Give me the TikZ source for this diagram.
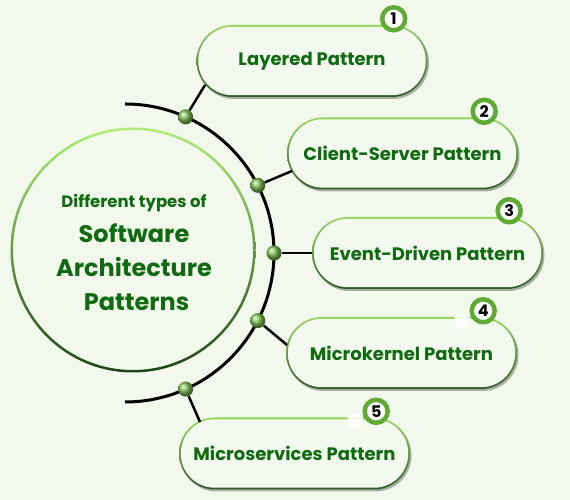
\documentclass[tikz,border=0pt]{standalone}
\usepackage{fontspec}
\setmainfont{Poppins}
\usetikzlibrary{shapes.misc,shadows}

\definecolor{pagebg}{HTML}{F2F8EB}
\definecolor{pillfill}{HTML}{F4F9EF}
\definecolor{pilltop}{HTML}{92D65A}
\definecolor{pillbottom}{HTML}{2C5A24}
\definecolor{ringtop}{HTML}{AEF077}
\definecolor{ringmiddle}{HTML}{4E8E34}
\definecolor{ringbottom}{HTML}{1A4614}
\definecolor{labelgreen}{HTML}{0F6A10}
\definecolor{dotgreen}{HTML}{80C454}
\definecolor{badgegreen}{HTML}{5EAA35}

\begin{document}
\begin{tikzpicture}[x=1pt,y=1pt]
    \useasboundingbox (0,0) rectangle (570,500);
    \fill[pagebg] (0,0) rectangle (570,500);
    \begin{scope}
        \tikzset{
            pattern pill/.style={rectangle, rounded corners=36pt,
                minimum width=231pt, minimum height=72pt,
                top color=pilltop, bottom color=pillbottom,
                drop shadow={shadow xshift=1.5pt, shadow yshift=-2pt, fill=black, opacity=0.3},
                path picture={\fill[pillfill, rounded corners=34pt]
                    ([shift={(1.8pt,1.8pt)}]path picture bounding box.south west) rectangle
                    ([shift={(-1.8pt,-1.8pt)}]path picture bounding box.north east);},
                text=labelgreen, font=\bfseries\fontsize{18}{20}\selectfont},
            arc dot/.style={circle, minimum size=15pt, inner sep=0pt, ball color=dotgreen},
            num badge/.style={circle, minimum size=23pt, inner sep=0pt, fill=white,
                draw=badgegreen, line width=4.5pt,
                drop shadow={shadow xshift=1pt, shadow yshift=-1.5pt, fill=black, opacity=0.4},
                font=\bfseries\fontsize{16}{16}\selectfont},
            link/.style={draw=black, line width=2.5pt}
        }
        % Draw the central circle and its title
        \node [circle, minimum size=244pt, inner sep=0pt] (core) at (133,250) {};
        \shade[top color=ringtop, middle color=ringmiddle, bottom color=ringbottom, even odd rule]
            (core.center) circle (122.5) circle (120);
        \node [align=center, text=labelgreen, font=\bfseries\fontsize{24}{34}\selectfont] (title) at (134,248)
            {{\fontsize{16.5}{18}\selectfont Different types of}\\[1pt]Software\\Architecture\\\ Patterns};

        % Draw the arc with its dots
        \coordinate (hub) at (125,247);
        \draw [line width=3pt] (125,396) arc[start angle=90, end angle=-90, radius=149];
        \foreach \a [count=\i] in {66,27,0,-27,-66}
            \node [arc dot] (dot\i) at ([shift={(\a:149)}]hub) {};

        % Draw the pattern boxes
        \node [pattern pill] (pill1) at (312,439) {Layered Pattern};
        \node [pattern pill] (pill2) at (402.5,346.5) {Client-Server Pattern};
        \node [pattern pill] (pill3) at (427.5,247) {Event-Driven Pattern};
        \node [pattern pill] (pill4) at (401.5,147) {Microkernel Pattern};
        \node [pattern pill] (pill5) at (294.5,46.5) {Microservices Pattern};

        % Connect the dots to the boxes
        \draw [link] (dot1) -- ([xshift=-107pt,yshift=-24pt]pill1.center);
        \draw [link] (dot2) -- ([xshift=-110.5pt,yshift=-17.5pt]pill2.center);
        \draw [link] (dot3) -- (dot3 -| pill3.west);
        \draw [link] (dot4) -- ([xshift=-114.5pt,yshift=8pt]pill4.center);
        \draw [link] (dot5) -- ([xshift=-94.5pt,yshift=31.5pt]pill5.center);

        % Number each box
        \fill [white, opacity=0.85] ([xshift=-55pt,yshift=-4pt]pill4.north east) circle (8);
        \fill [white, opacity=0.85] ([xshift=-55pt,yshift=-4pt]pill5.north east) circle (8);
        \foreach \i in {1,...,5}
            \node [num badge] (badge\i) at ([xshift=-34pt,yshift=6pt]pill\i.north east) {\i};
    \end{scope}
\end{tikzpicture}
\end{document}
